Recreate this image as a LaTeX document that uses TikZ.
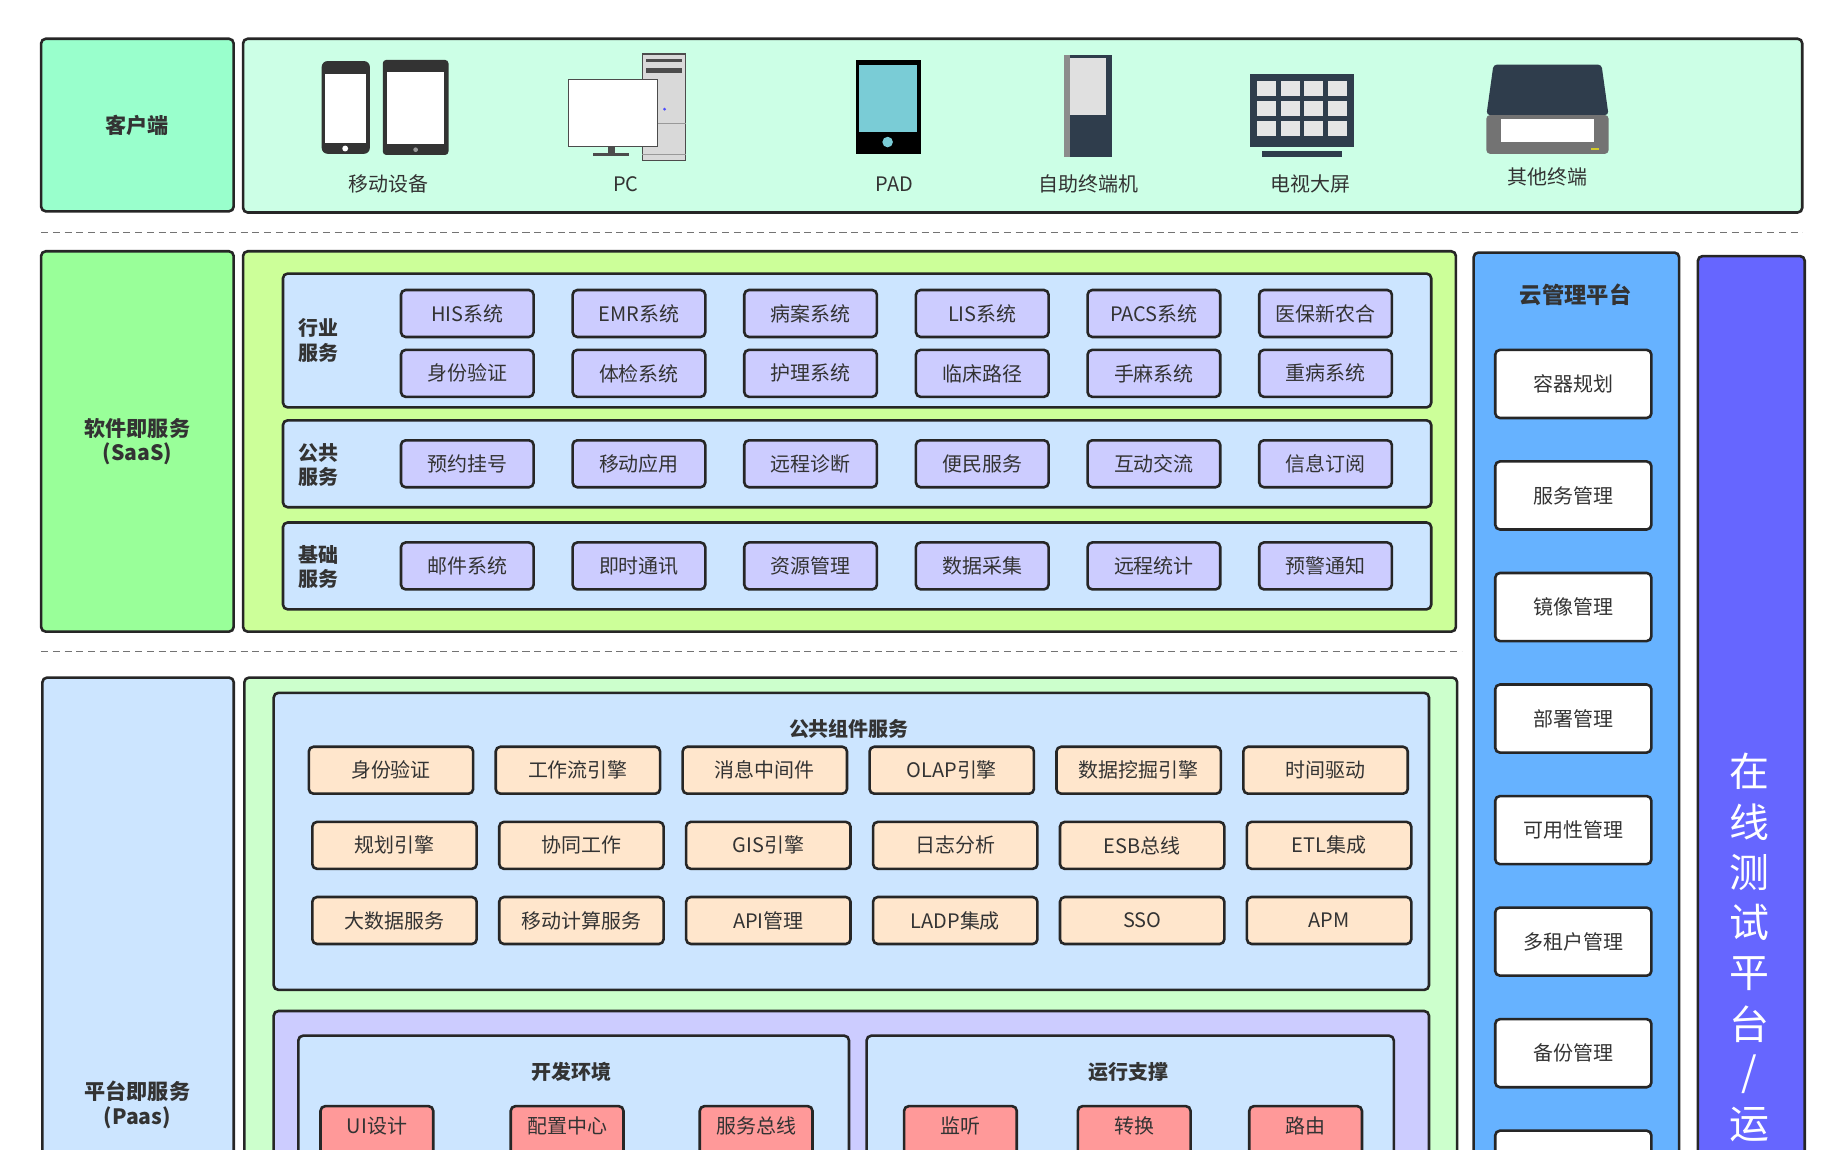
\documentclass[tikz,border=0pt]{standalone}
\usepackage{fontspec}
\setmainfont{Noto Sans CJK SC}
\definecolor{sbc}{HTML}{CCCCFF}\definecolor{obc}{HTML}{FFE6CC}\definecolor{rbc}{HTML}{FF9999}
\definecolor{clA}{HTML}{99FFCC}\definecolor{clB}{HTML}{CCFFE6}
\definecolor{saA}{HTML}{99FF99}\definecolor{saB}{HTML}{CCFF99}
\definecolor{lbl}{HTML}{CCE5FF}\definecolor{cld}{HTML}{66B2FF}
\definecolor{vio}{HTML}{6666FF}\definecolor{paB}{HTML}{CCFFCC}
\definecolor{teal}{HTML}{7ACCD6}\definecolor{slate}{HTML}{2F3D4C}
\begin{document}
\begin{tikzpicture}[x=1pt,y=-1pt,
 bx/.style={draw=black!85,line width=2.2pt,rounded corners=4pt},
 sb/.style={bx,minimum width=113pt,minimum height=40pt,fill=sbc,font=\fontsize{17}{17}\selectfont,text=black!80,inner sep=0pt},
 ob/.style={bx,minimum width=140pt,minimum height=40pt,fill=obc,font=\fontsize{17}{17}\selectfont,text=black!80,inner sep=0pt},
 wb/.style={bx,minimum width=133pt,minimum height=58pt,fill=white,font=\fontsize{17}{17}\selectfont,text=black!80,inner sep=0pt},
 rb/.style={bx,minimum width=96pt,minimum height=50pt,fill=rbc,font=\fontsize{17}{17}\selectfont,text=black!80,inner sep=0pt,anchor=north,text depth=18pt},
 tt/.style={font=\bfseries\fontsize{18}{21}\selectfont,text=black!80,align=center},
 lb/.style={font=\fontsize{17}{17}\selectfont,text=black!80},
 dsh/.style={draw=black!55,line width=1pt,dash pattern=on 6pt off 4pt}]
\path[use as bounding box] (0,0) rectangle (1568,979.4);
\begin{scope}
\clip (0,0) rectangle (1568,979.4);
% client
\node[bx,fill=clA,minimum width=164pt,minimum height=147pt,tt] (cl) at (117,106.5) {客户端};
\node[bx,fill=clB,minimum width=1328pt,minimum height=148pt] (clm) at (871,107) {};
\draw[dsh] (35,198) -- (1535,198);
% saas
\node[bx,fill=saA,minimum width=164pt,minimum height=324pt,tt] (saas) at (117,376) {软件即服务\\(SaaS)};
\node[bx,fill=saB,minimum width=1033pt,minimum height=324pt] (saasm) at (723.5,376) {};
\foreach \n/\a/\b in {r1/233/347,r2/358/432,r3/445/519}
 \node[bx,fill=lbl,minimum width=978pt,minimum height=\b-\a,inner sep=0pt] (\n) at (730,{(\a+\b)/2}) {};
\node[tt,align=left,font=\bfseries\fontsize{17}{21}\selectfont] (l1) at (271,290) {行业\\服务};
\node[tt,align=left,font=\bfseries\fontsize{17}{21}\selectfont] (l2) at (271,396) {公共\\服务};
\node[tt,align=left,font=\bfseries\fontsize{17}{21}\selectfont] (l3) at (271,483) {基础\\服务};
\foreach \t [count=\i] in {HIS系统,EMR系统,病案系统,LIS系统,PACS系统,医保新农合}
 \node[sb] (a\i) at ({398+146.2*(\i-1)},267) {\t};
\foreach \t [count=\i] in {身份验证,体检系统,护理系统,临床路径,手麻系统,重病系统}
 \node[sb] (b\i) at ({398+146.2*(\i-1)},318) {\t};
\foreach \t [count=\i] in {预约挂号,移动应用,远程诊断,便民服务,互动交流,信息订阅}
 \node[sb] (c\i) at ({398+146.2*(\i-1)},395) {\t};
\foreach \t [count=\i] in {邮件系统,即时通讯,资源管理,数据采集,远程统计,预警通知}
 \node[sb] (d\i) at ({398+146.2*(\i-1)},482) {\t};
\draw[dsh] (35,555) -- (1245,555);
% cloud
\node[bx,fill=cld,minimum width=175pt,minimum height=800pt,anchor=north west] (cloud) at (1254,214) {};
\node[tt,font=\bfseries\fontsize{19}{21}\selectfont] (ct) at (1342,251) {云管理平台};
\foreach \t [count=\i] in {容器规划,服务管理,镜像管理,部署管理,可用性管理,多租户管理,备份管理,{}}
 \node[wb] (w\i) at (1340,{327+95*(\i-1)}) {\t};
\node[bx,fill=vio,minimum width=91pt,minimum height=800pt,anchor=north west] (ot) at (1445,217) {};
\foreach \t [count=\i] in {在,线,测,试,平,台,/,运}
 \node[text=white,font=\fontsize{34}{34}\selectfont] (v\i) at (1490,{657+43*(\i-1)}) {\t};
% paas
\node[bx,fill=lbl,minimum width=163pt,minimum height=500pt,anchor=north west] (paas) at (35,576) {};
\node[tt] (pt) at (117,941) {平台即服务\\(Paas)};
\node[bx,fill=paB,minimum width=1033pt,minimum height=500pt,anchor=north west] (paasm) at (207,576) {};
\node[bx,fill=lbl,minimum width=984pt,minimum height=253pt,anchor=north west] (pc) at (232,589) {};
\node[tt,font=\bfseries\fontsize{17}{17}\selectfont] (pct) at (723,621) {公共组件服务};
\foreach \t [count=\i] in {身份验证,工作流引擎,消息中间件,OLAP引擎,数据挖掘引擎,时间驱动}
 \node[ob] (e\i) at ({333+159.2*(\i-1)},656) {\t};
\foreach \t [count=\i] in {规划引擎,协同工作,GIS引擎,日志分析,ESB总线,ETL集成}
 \node[ob] (f\i) at ({336+159.2*(\i-1)},720) {\t};
\foreach \t [count=\i] in {大数据服务,移动计算服务,API管理,LADP集成,SSO,APM}
 \node[ob] (g\i) at ({336+159.2*(\i-1)},784) {\t};
\node[bx,fill=sbc,minimum width=984pt,minimum height=200pt,anchor=north west] (pp) at (232,860) {};
\node[bx,fill=lbl,minimum width=469pt,minimum height=200pt,anchor=north west] (dev) at (253,881) {};
\node[bx,fill=lbl,minimum width=449pt,minimum height=200pt,anchor=north west] (run) at (737,881) {};
\node[tt,font=\bfseries\fontsize{17}{17}\selectfont] (dt) at (487,913) {开发环境};
\node[tt,font=\bfseries\fontsize{17}{17}\selectfont] (rt) at (961,913) {运行支撑};
\foreach \t/\x [count=\i] in {UI设计/321,配置中心/483,服务总线/644,监听/818,转换/966,路由/1112}
 \node[rb] (h\i) at (\x,941) {\t};
% icons
\fill[black!80,rounded corners=5pt] (274,52) rectangle (315,131);
\fill[white] (277,63) rectangle (312,122);
\fill[white] (294,126.5) circle (2.5);
\fill[black!80,rounded corners=3pt] (326,51) rectangle (382,132);
\fill[white] (330,61) rectangle (378,123);
\fill[black!40] (354,127.5) circle (2);
\draw[black!70,line width=1pt,fill=black!15] (547,46) rectangle (584,137);
\fill[black!70] (550,50) rectangle (581,53);
\fill[black!70] (550,58) rectangle (581,62);
\draw[black!40] (547,131) -- (584,131);
\draw[black!40] (547,105) -- (584,105);
\fill[blue!70] (566,93) circle (1.3);
\draw[black!70,line width=1pt,fill=white] (484,68) rectangle (560,125);
\fill[black!70] (518,125) rectangle (524,130);
\fill[black!70] (505,130) rectangle (536,133);
\fill[black] (729,51) rectangle (784,131);
\fill[teal] (732,55) rectangle (781,112);
\fill[teal] (756,121) circle (4.5);
\fill[slate] (906,47) rectangle (947,134);
\fill[black!12] (911,49) rectangle (942,98);
\fill[black!45] (906,47) rectangle (911,134);
\fill[slate] (1065,63) rectangle (1153,125);
\foreach \i in {0,1,2,3} \foreach \j in {0,1,2}
 \fill[black!10] ({1071+20*\i},{69+17*\j}) rectangle ({1087+20*\i},{82+17*\j});
\fill[slate] (1075,129) rectangle (1143,134);
\fill[slate,rounded corners=3pt] (1272,55) -- (1364,55) -- (1370,98) -- (1266,98) -- cycle;
\fill[black!55,rounded corners=3pt] (1266,98) rectangle (1370,131);
\fill[white] (1278,101) rectangle (1358,121);
\fill[yellow!80!black] (1355,126) rectangle (1362,128);
\node[lb] (t1) at (331,157) {移动设备};
\node[lb] (t2) at (533,157) {PC};
\node[lb] (t3) at (762,157) {PAD};
\node[lb] (t4) at (927,157) {自助终端机};
\node[lb] (t5) at (1116,157) {电视大屏};
\node[lb] (t6) at (1318,151) {其他终端};
\end{scope}
\end{tikzpicture}
\end{document}
